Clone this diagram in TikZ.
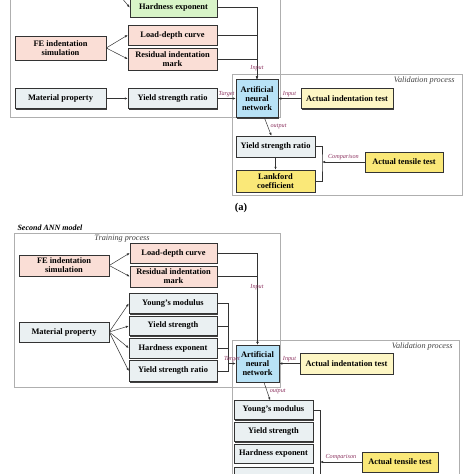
\documentclass[tikz,border=0pt]{standalone}
\usepackage{fontspec}
\setmainfont{Liberation Serif}
\usepackage{xcolor}
\usepackage{tikz}
\usetikzlibrary{arrows.meta,shadows}
\definecolor{rose}{RGB}{250,222,214}
\definecolor{vert}{RGB}{216,244,200}
\definecolor{grisbleu}{RGB}{234,240,242}
\definecolor{ciel}{RGB}{184,226,246}
\definecolor{jaunepale}{RGB}{253,246,196}
\definecolor{jaune}{RGB}{250,232,120}
\definecolor{cadre}{RGB}{175,175,175}
\definecolor{etiq}{RGB}{140,50,95}
\newcommand{\boite}[7]{%
  \node[blk,fill=#2,minimum width=#5,minimum height=#6] (#1) at (#3,#4) {#7};}
\newcommand{\etq}[4]{%
  \node[lbl] (#1) at (#2,#3) {#4};}
\tikzset{
  blk/.style={draw=black!80,line width=0.5pt,align=center,inner sep=1pt,
    font=\fontsize{8.4}{10.2}\selectfont\bfseries,
    drop shadow={shadow xshift=1.4pt,shadow yshift=-1.4pt,fill=black!75,opacity=1}},
  lbl/.style={font=\fontsize{6.2}{6.5}\selectfont\itshape,text=etiq,inner sep=0.5pt},
  titre/.style={font=\fontsize{8.2}{9}\selectfont\itshape,text=black!75},
  fil/.style={draw=black!80,line width=0.5pt},
  fl/.style={fil,-{Latex[length=3pt,width=2.4pt]}},
  cadrebox/.style={draw=cadre,line width=0.6pt}}

\begin{document}
\begin{tikzpicture}[x=1pt,y=-1pt]
  \useasboundingbox (0,0) rectangle (474,474);
  \clip (0,0) rectangle (474,474);
  % (a) premier modele
  \draw[cadrebox] (10,-10) rectangle (280,117);
  \draw[cadrebox] (232,74) rectangle (462,195);
  \node[titre,anchor=east] (val1) at (458,81) {Validation process};
  \boite{he1}{vert}{173.5}{7.5}{87}{19}{Hardness exponent}
  \boite{ld1}{rose}{172.5}{35}{89}{20}{Load-depth curve}
  \boite{rim1}{rose}{172.5}{59}{89}{22}{Residual indentation\\[-1pt]mark}
  \boite{fe1}{rose}{60.5}{48}{91}{24}{FE indentation\\[-1pt]simulation}
  \boite{mp1}{grisbleu}{60.5}{98.5}{91}{20}{Material property}
  \boite{ysr1}{grisbleu}{172.5}{98.5}{89}{20}{Yield strength ratio}
  \boite{ann1}{ciel}{257}{98.5}{42}{38}{Artificial\\[-1pt]neural\\[-1pt]network}
  \boite{ait1}{jaunepale}{347}{98.5}{92}{20}{Actual indentation test}
  \boite{ysr1b}{grisbleu}{275.5}{146.5}{79}{21}{Yield strength ratio}
  \boite{lank1}{jaune}{275.5}{181}{79}{22}{Lankford\\[-1pt]coefficient}
  \boite{att1}{jaune}{404}{162}{78}{20}{Actual tensile test}
  \coordinate (mpa) at (121,-3);
  \coordinate (cmp1) at (322,162);
  \draw[fl] (mpa) -- (he1.west);
  \draw[fl] (fe1.east) -- (ld1.west);
  \draw[fl] (fe1.east) -- (rim1.west);
  \draw[fl] (mp1) -- (ysr1);
  \draw[fl] (he1.east) -| (ann1.north);
  \draw[fl] (ld1.east) -| (ann1.north);
  \draw[fl] (rim1.east) -| (ann1.north);
  \etq{in1}{257}{68}{Input}
  \draw[fl] (ysr1) -- (ann1) node[lbl,midway,above=1pt] (tg1) {Target};
  \draw[fl] (ait1) -- (ann1) node[lbl,midway,above=1pt] (in1b) {Input};
  \draw[fl] (ann1) -- (ysr1b) node[lbl,midway,right=2pt] (out1) {output};
  \draw[fl] (ysr1b) -- (lank1);
  \draw[fil] (ysr1b.east) -| (cmp1) |- (lank1.east);
  \draw[fl] (att1.west) -- (cmp1) node[lbl,midway,above=1.5pt] (cp1) {Comparison};
  \node[font=\fontsize{10.5}{12}\selectfont\bfseries] (lbla) at (241,208) {(a)};
  % second modele
  \node[anchor=west,font=\fontsize{8}{9}\selectfont\bfseries\itshape] (titre2) at (14,228) {Second ANN model};
  \draw[cadrebox] (14,233) rectangle (280,387);
  \node[titre] (train2) at (122,238.5) {Training process};
  \draw[cadrebox] (232,340) rectangle (459,490);
  \node[titre,anchor=east] (val2) at (456,347) {Validation process};
  \boite{fe2}{rose}{64}{265.5}{90}{21}{FE indentation\\[-1pt]simulation}
  \boite{ld2}{rose}{173.5}{253}{87}{20}{Load-depth curve}
  \boite{rim2}{rose}{173.5}{276.5}{87}{21}{Residual indentation\\[-1pt]mark}
  \boite{mp2}{grisbleu}{64}{332}{90}{20}{Material property}
  \boite{ym2}{grisbleu}{173}{303.5}{88}{20}{Young's modulus}
  \boite{ys2}{grisbleu}{173}{326}{88}{19}{Yield strength}
  \boite{he2}{grisbleu}{173}{348}{88}{20}{Hardness exponent}
  \boite{ysr2}{grisbleu}{173}{371}{88}{21}{Yield strength ratio}
  \boite{ann2}{ciel}{257.5}{363.5}{43}{37}{Artificial\\[-1pt]neural\\[-1pt]network}
  \boite{ait2}{jaunepale}{346.5}{363.5}{93}{21}{Actual indentation test}
  \boite{ym2b}{grisbleu}{273.5}{410}{79}{19}{Young's modulus}
  \boite{ys2b}{grisbleu}{273.5}{432}{79}{19}{Yield strength}
  \boite{he2b}{grisbleu}{273.5}{453.5}{79}{19}{Hardness exponent}
  \boite{ysr2b}{grisbleu}{273.5}{477.5}{79}{21}{}
  \boite{att2}{jaune}{400}{462}{76}{20}{Actual tensile test}
  \coordinate (brk2) at (228,371);
  \coordinate (tg2) at (228,363.5);
  \coordinate (brk2b) at (320,490);
  \coordinate (cmp2) at (320,462);
  \draw[fl] (fe2.east) -- (ld2.west);
  \draw[fl] (fe2.east) -- (rim2.west);
  \foreach \cible in {ym2,ys2,he2,ysr2}
    \draw[fl] (mp2.east) -- (\cible.west);
  \draw[fl] (ld2.east) -| (ann2.north);
  \draw[fl] (rim2.east) -| (ann2.north);
  \etq{in2}{257}{287}{Input}
  \draw[fil] (ym2.east) -| (brk2) -- (ysr2.east);
  \draw[fil] (ys2.east) -- (ys2.east -| brk2);
  \draw[fil] (he2.east) -- (he2.east -| brk2);
  \draw[fl] (tg2) -- (ann2.west) node[lbl,midway,above=1pt] (tg2l) {Target};
  \draw[fl] (ait2) -- (ann2) node[lbl,midway,above=1pt] (in2b) {Input};
  \draw[fl] (ann2) -- (ym2b) node[lbl,midway,right=2pt] (out2) {output};
  \draw[fil] (ym2b.east) -| (brk2b);
  \draw[fl] (att2.west) -- (cmp2) node[lbl,midway,above=1.5pt] (cp2) {Comparison};
\end{tikzpicture}
\end{document}
